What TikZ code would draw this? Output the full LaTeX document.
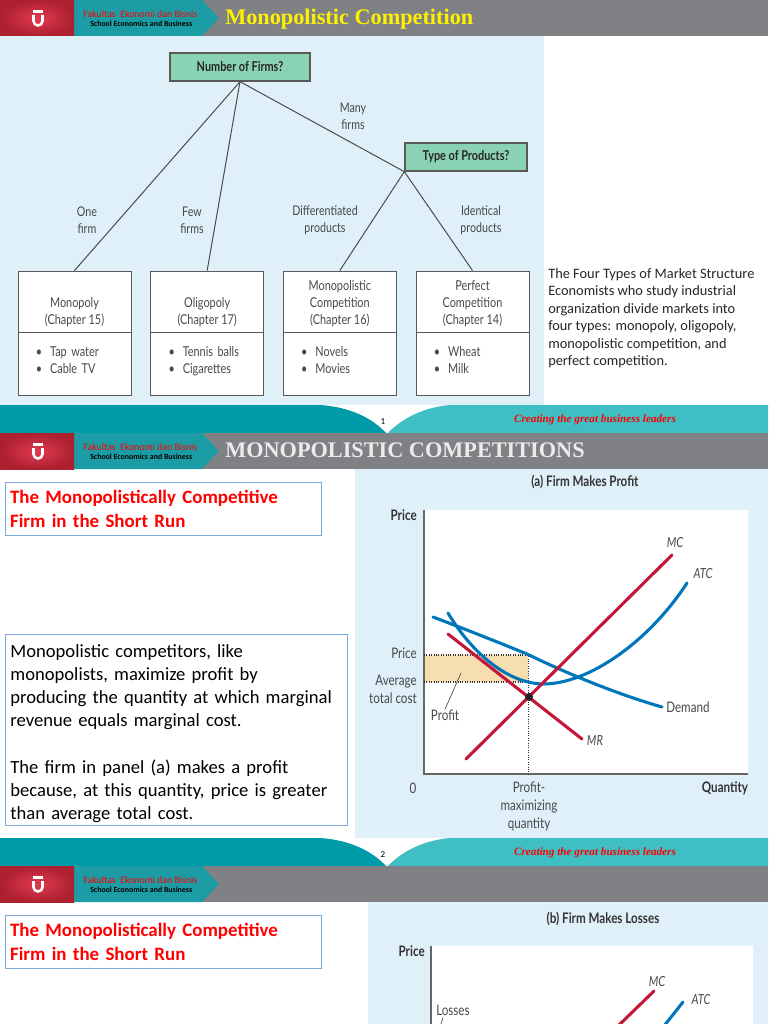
\documentclass[tikz,border=0pt]{standalone}
\usepackage{xcolor}
\usepackage{fontspec}
\usepackage{tikz}
\usetikzlibrary{positioning,shadings}
\setmainfont{Carlito}
\newfontfamily\condfont[FakeStretch=0.8]{Lato}
\newfontfamily\timesfont{Liberation Serif}
\definecolor{headgray}{RGB}{128,129,133}
\definecolor{headteal}{RGB}{28,156,164}
\definecolor{footdark}{RGB}{0,155,168}
\definecolor{footlight}{RGB}{63,191,196}
\definecolor{logored}{RGB}{172,32,48}
\definecolor{logolight}{RGB}{226,58,80}
\definecolor{panelblue}{RGB}{224,240,249}
\definecolor{boxgreen}{RGB}{138,210,180}
\definecolor{curvered}{RGB}{196,22,56}
\definecolor{curveblue}{RGB}{0,118,186}
\definecolor{profittan}{RGB}{246,222,176}
\definecolor{textgray}{RGB}{70,72,76}
\definecolor{boxblue}{RGB}{120,170,220}

\begin{document}
\begin{tikzpicture}[
        x=0.75pt, y=-0.75pt,
        node distance=0pt and 14.05pt,
        leaf/.style={rectangle, draw=black!65, fill=white, line width=0.7pt, minimum width=84.75pt,
            align=center, inner sep=0pt, text=textgray, font=\condfont\fontsize{10.2}{12.75}\selectfont},
        leaftop/.style={leaf, minimum height=45.75pt},
        leafbot/.style={leaf, minimum height=47.25pt, align=left, text width=58pt, execute at end node={\rule[-6pt]{0pt}{0pt}}},
        question/.style={rectangle, draw=black!65, fill=boxgreen, line width=1pt, inner sep=0pt,
            font=\condfont\bfseries\fontsize{10.2}{11}\selectfont, text=black!85},
        treeline/.style={black!70, line width=0.75pt},
        treelab/.style={align=center, inner sep=0pt, text=textgray, font=\condfont\fontsize{10}{12.75}\selectfont},
        plotlab/.style={align=center, inner sep=0pt, text=textgray, font=\condfont\fontsize{10.9}{13.5}\selectfont},
        plotbold/.style={inner sep=0pt, text=black!80, font=\condfont\bfseries\fontsize{10.9}{13.5}\selectfont},
        plotital/.style={inner sep=0pt, text=textgray, font=\condfont\itshape\fontsize{10.4}{13.5}\selectfont},
        redcurve/.style={curvered, line width=2.3pt, line cap=round},
        bluecurve/.style={curveblue, line width=2.3pt, line cap=round},
        dots/.style={black!80, line width=0.8pt, densely dotted},
        redbox/.style={rectangle, draw=boxblue, fill=white, line width=0.6pt, align=left, anchor=north west,
            inner sep=0pt, text=red, font=\bfseries\fontsize{14.2}{17.6}\selectfont},
        schoolred/.style={inner sep=0pt, text=red, anchor=west, font=\fontsize{7.4}{8}\selectfont},
        schoolblack/.style={inner sep=0pt, text=black, anchor=west, font=\bfseries\fontsize{5.9}{7}\selectfont},
        motto/.style={inner sep=0pt, text=red, font=\timesfont\bfseries\itshape\fontsize{8.4}{9}\selectfont},
        pagenum/.style={inner sep=0pt, text=black, font=\fontsize{6.8}{8}\selectfont},
        logo/.style={white, line width=1.9pt}
    ]
        \useasboundingbox (0,0) rectangle (768,1024);
        \fill[white] (0,0) rectangle (768,1024);

        % panels
        \fill[panelblue] (0,36) rectangle (544,405);
        \fill[panelblue] (355,469) rectangle (768,838);
        \fill[panelblue] (368,902) rectangle (768,1024);

        % header 1
        \fill[headgray] (200,0) rectangle (768,36);
        \fill[headteal] (74,0) -- (202,0) -- (219,18) -- (202,36) -- (74,36) -- cycle;
        \shade[inner color=logolight, outer color=logored] (0,0) rectangle (74,36);
        \draw[logo] (33.5,15) -- (33.5,21) arc[start angle=180, end angle=0, radius=4.5] -- (42.5,15);
        \draw[logo] (33,11.5) -- (43,11.5);
        \node[schoolred] (fak1) at (83,14) {Fakultas\ \ Ekonomi dan Bisnis};
        \node[schoolblack] (sch1) at (90,23.5) {School Economics and Business};
        \node[inner sep=0pt, anchor=west, text=yellow, font=\timesfont\bfseries\fontsize{16.7}{20}\selectfont] (title1) at (225,19) {Monopolistic Competition};

        % tree
        \node[question, minimum width=105pt, minimum height=21pt] (num) at (240,67) {Number of Firms?};
        \node[question, minimum width=91.5pt, minimum height=21pt] (type) at (466,157) {Type of Products?};

        \node[leaftop] (mono) at (74.5,301.5) {\rule{0pt}{24pt}Monopoly\\(Chapter 15)};
        \node[leaftop, right=of mono] (oligo) {\rule{0pt}{24pt}Oligopoly\\(Chapter 17)};
        \node[leaftop, right=of oligo] (moncomp) {\rule{0pt}{10pt}Monopolistic\\Competition\\(Chapter 16)};
        \node[leaftop, right=of moncomp] (perfect) {\rule{0pt}{10pt}Perfect\\Competition\\(Chapter 14)};
        \node[leafbot, below=of mono] (monoB) {\textbullet\hspace{6pt}Tap water\\\textbullet\hspace{6pt}Cable TV};
        \node[leafbot, below=of oligo] (oligoB) {\textbullet\hspace{6pt}Tennis balls\\\textbullet\hspace{6pt}Cigarettes};
        \node[leafbot, below=of moncomp] (moncompB) {\textbullet\hspace{6pt}Novels\\\textbullet\hspace{6pt}Movies};
        \node[leafbot, below=of perfect] (perfectB) {\textbullet\hspace{6pt}Wheat\\\textbullet\hspace{6pt}Milk};

        \draw[treeline] (num.south) -- (mono.north);
        \draw[treeline] (num.south) -- (oligo.north);
        \draw[treeline] (num.south) -- (type.south west);
        \draw[treeline] (type.south west) -- (moncomp.north);
        \draw[treeline] (type.south west) -- (perfect.north);

        \node[treelab] (one) at (87,220) {One\\firm};
        \node[treelab] (few) at (192,220) {Few\\firms};
        \node[treelab] (many) at (353,116) {Many\\firms};
        \node[treelab] (diff) at (325,220) {Differentiated\\products};
        \node[treelab] (iden) at (481,220) {Identical\\products};

        \node[inner sep=0pt, anchor=north west, align=left, text=black!85, font=\fontsize{10.78}{13.1}\selectfont] (types) at (548,268)
            {The Four Types of Market Structure\\Economists who study industrial\\organization divide markets into\\four types: monopoly, oligopoly,\\monopolistic competition, and\\perfect competition.};

        % footer 1
        \fill[footdark] (0,405) -- (320,405) .. controls (350,407) and (372,418) .. (386,433) -- (0,433) -- cycle;
        \fill[footlight] (388,433) .. controls (402,418) and (425,407) .. (450,405) -- (768,405) -- (768,433) -- cycle;
        \node[pagenum] (page1) at (383,422) {1};
        \node[motto] (motto1) at (595,419.5) {Creating the great business leaders};

        % header 2
        \fill[headgray] (200,433) rectangle (768,469);
        \fill[headteal] (74,433) -- (202,433) -- (219,451) -- (202,469) -- (74,469) -- cycle;
        \shade[inner color=logolight, outer color=logored] (0,433) rectangle (74,469);
        \draw[logo] (33.5,448) -- (33.5,454) arc[start angle=180, end angle=0, radius=4.5] -- (42.5,448);
        \draw[logo] (33,444.5) -- (43,444.5);
        \node[schoolred] (fak2) at (83,447) {Fakultas\ \ Ekonomi dan Bisnis};
        \node[schoolblack] (sch2) at (90,456.5) {School Economics and Business};
        \node[inner sep=0pt, anchor=west, text=white!92!black, font=\timesfont\bfseries\fontsize{16.7}{18}\selectfont] (title2) at (225,450.5) {MONOPOLISTIC COMPETITIONS};

        % slide 2 text
        \node[redbox, minimum width=237pt, minimum height=39.75pt, text width=230pt, inner xsep=3.5pt] (short1) at (5,482) {The Monopolistically Competitive\\Firm in the Short Run};
        \node[redbox, minimum width=256.5pt, minimum height=143.25pt, text width=249pt, inner xsep=3.75pt, text=black, font=\fontsize{13.96}{17.4}\selectfont] (para) at (5,634)
            {\rule{0pt}{15pt}Monopolistic competitors, like\\monopolists, maximize profit by\\producing the quantity at which marginal\\revenue equals marginal cost.\\[17.4pt]The firm in panel (a) makes a profit\\because, at this quantity, price is greater\\than average total cost.};

        % panel (a)
        \node[plotbold] (tita) at (585,482) {(a) Firm Makes Profit};
        \fill[white] (424,510) rectangle (748,774);
        \fill[profittan] (424,655) rectangle (528,682);
        \draw[black!60, line width=0.9pt] (424,510) -- (424,774) -- (748,774);
        \draw[dots] (424,655) -- (528.5,655) -- (528.5,774);
        \draw[dots] (424,682) -- (528.5,682);
        \draw[bluecurve] (433,617) .. controls (465,629) and (500,643) .. (527,654) .. controls (570,675) and (620,695) .. (662,707);
        \draw[bluecurve] (448,613) .. controls (470,650) and (505,683) .. (543,684) .. controls (590,684) and (650,640) .. (687,583);
        \draw[redcurve] (448,634) -- (582,739);
        \draw[redcurve] (466,759) -- (672,555);
        \fill[black!85] (529,697) circle[radius=4];
        \node[plotbold, anchor=east] (pricea) at (417,515) {Price};
        \node[plotlab, anchor=east] (ptag) at (417,653) {Price};
        \node[plotlab, anchor=north east, align=right] (atag) at (417,675) {Average\\total cost};
        \node[plotlab] (profit) at (445,715) {Profit};
        \coordinate (ptip) at (461,673);
        \draw[black!70, line width=0.5pt] (ptip) -- (profit.north);
        \node[plotlab] (zero) at (413,788) {0};
        \node[plotlab, anchor=north] (pmq) at (529,782) {Profit-\\maximizing\\quantity};
        \node[plotbold] (qtya) at (725,788) {Quantity};
        \node[plotital] (mca) at (675,543) {MC};
        \node[plotital] (atca) at (703,574) {ATC};
        \node[plotlab, anchor=west] (dem) at (666,707) {Demand};
        \node[plotital] (mra) at (595,741) {MR};

        % footer 2
        \fill[footdark] (0,838) -- (320,838) .. controls (350,840) and (372,851) .. (386,866) -- (0,866) -- cycle;
        \fill[footlight] (388,866) .. controls (402,851) and (425,840) .. (450,838) -- (768,838) -- (768,866) -- cycle;
        \node[pagenum] (page2) at (383,855) {2};
        \node[motto] (motto2) at (595,852.5) {Creating the great business leaders};

        % header 3
        \fill[headgray] (200,866) rectangle (768,902);
        \fill[headteal] (74,866) -- (202,866) -- (219,884) -- (202,902) -- (74,902) -- cycle;
        \shade[inner color=logolight, outer color=logored] (0,866) rectangle (74,902);
        \draw[logo] (33.5,881) -- (33.5,887) arc[start angle=180, end angle=0, radius=4.5] -- (42.5,881);
        \draw[logo] (33,877.5) -- (43,877.5);
        \node[schoolred] (fak3) at (83,880) {Fakultas\ \ Ekonomi dan Bisnis};
        \node[schoolblack] (sch3) at (90,889.5) {School Economics and Business};

        % slide 3
        \node[redbox, minimum width=237pt, minimum height=39.75pt, text width=230pt, inner xsep=3.5pt] (short2) at (5,915) {The Monopolistically Competitive\\Firm in the Short Run};
        \node[plotbold] (titb) at (603,919) {(b) Firm Makes Losses};
        \fill[white] (431,946) rectangle (753,1024);
        \draw[black!60, line width=0.9pt] (431,946) -- (431,1024);
        \draw[redcurve] (654,991) -- (618,1026);
        \draw[bluecurve] (683,1002) -- (664,1026);
        \node[plotbold, anchor=east] (priceb) at (425,951) {Price};
        \node[plotlab, anchor=west] (loss) at (436,1010) {Losses};
        \coordinate (ltip) at (441,1024);
        \draw[black!70, line width=0.5pt] (loss.south west) ++(7,2) -- (ltip);
        \node[plotital] (mcb) at (657,982) {MC};
        \node[plotital] (atcb) at (701,1000) {ATC};
    \end{tikzpicture}
\end{document}
